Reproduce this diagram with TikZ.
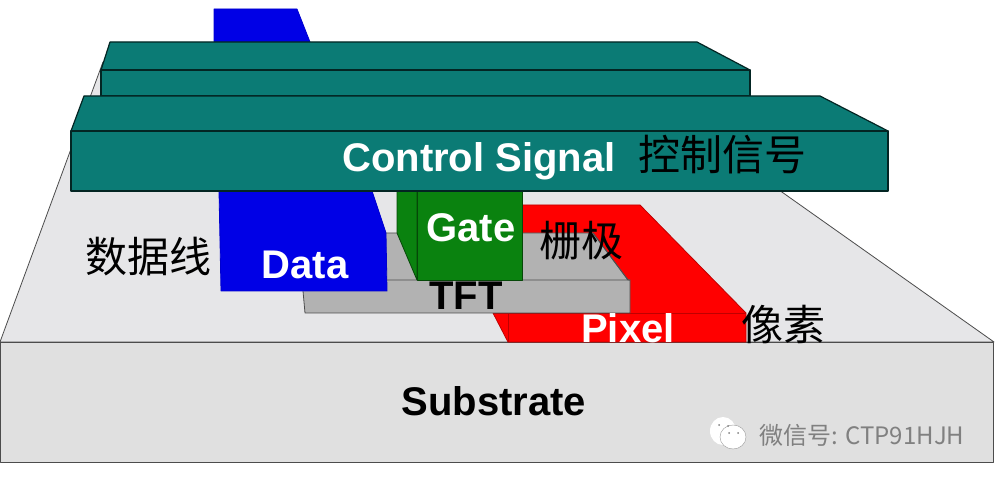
\documentclass[tikz,border=0pt]{standalone}
\usepackage{fontspec}
\setmainfont{Liberation Sans}
\newfontfamily\cjk{Noto Sans CJK SC}
\definecolor{tealbar}{HTML}{0B7B75}
\definecolor{databl}{HTML}{0000E6}
\definecolor{gategr}{HTML}{0A820F}
\definecolor{tftgr}{HTML}{B2B2B2}
\definecolor{platefront}{HTML}{E0E0E0}
\definecolor{platetop}{HTML}{E6E6E8}
\begin{document}
\begin{tikzpicture}[x=1pt,y=-1pt,%
                    vlak/.style={line join=round,line width=0.8pt},
                    balk/.style={vlak,fill=tealbar,draw=black!70!tealbar,line width=1.2pt},
                    data/.style={vlak,fill=databl,draw=databl!90!black},
                    poort/.style={vlak,fill=gategr,draw=black!45!gategr},
                    pixel/.style={vlak,fill=red,draw=red!75!black},
                    tft/.style={vlak,fill=tftgr,draw=black!70},
                    plaat/.style={vlak,draw=black!70},
                    opschrift/.style={font=\bfseries\fontsize{40}{42}\selectfont,text=white,inner sep=0},
                    zwart/.style={font=\bfseries\fontsize{40}{42}\selectfont,text=black,inner sep=0},
                    uitleg/.style={font=\cjk\fontsize{42}{45}\selectfont,text=black,inner sep=0},
        ]
        \useasboundingbox (0,0) rectangle (996,478);
        \fill[white] (0,0) rectangle (996,478);
%
        % substrate
        \path[plaat,fill=platetop] (103,62) -- (598,62) -- (994,342) -- (0,342) -- cycle;
        \draw[plaat,fill=platefront] (0,342) rectangle (993,462);
%
        % pixel
        \path[pixel] (522,205) -- (640,205) -- (746,313) -- (746,342) -- (508,342) -- (493,313) -- cycle;
        \draw[pixel] (493,313) -- (746,313) (508,313) -- (508,342);
%
        % tft
        \path[tft] (386,233) -- (593,233) -- (628,280) -- (630,280) -- (630,313) -- (305,313) -- (303,291) -- (305,280) -- cycle;
        \draw[tft] (305,280) -- (630,280) (593,233) -- (628,280);
%
        % data
        \path[data] (214,9) -- (297,9) -- (310,42) -- (214,42) -- cycle;
        \path[data] (219,191) -- (372,191) -- (386,233) -- (387,291) -- (221,291) -- cycle;
%
        % gate
        \path[poort] (397,191) -- (417,191) -- (417,280) -- (397,233) -- cycle;
        \path[poort] (417,191) rectangle (522,280);
%
        % control signal
        \path[balk] (110,42) -- (697,42) -- (750,70) -- (101,70) -- cycle;
        \path[balk] (101,70) rectangle (750,96);
        \path[balk] (84,96) -- (820,96) -- (888,131) -- (71,131) -- cycle;
        \path[balk] (71,131) rectangle (888,191);
%
        % wechat
        \fill[white] (723,431) ellipse (13 and 14);
        \fill[white,draw=black!40,line width=0.4pt] (733,437) ellipse (13 and 12);
        \fill[black!50] (719,425) circle (1) (728,426) circle (1) (729,433) circle (1) (738,433) circle (1);
%
        \node[opschrift] (control) at (479,161) {Control Signal};
        \node[uitleg] (controlcn) at (722,155) {控制信号};
        \node[opschrift] (data) at (305,265) {Data};
        \node[uitleg] (datacn) at (148,257) {数据线};
        \node[opschrift] (gate) at (471,228) {Gate};
        \node[uitleg] (gatecn) at (581,241) {栅极};
        \node[zwart] (tft) at (466,296) {TFT};
        \node[opschrift] (pixel) at (628,328) {Pixel};
        \node[uitleg] (pixelcn) at (783,324) {像素};
        \node[zwart] (substrate) at (494,401) {Substrate};
        \node[font=\cjk\fontsize{24}{26}\selectfont,text=black!50,inner sep=0] (wechat) at (862,435) {微信号: CTP91HJH};
    \end{tikzpicture}
\end{document}
